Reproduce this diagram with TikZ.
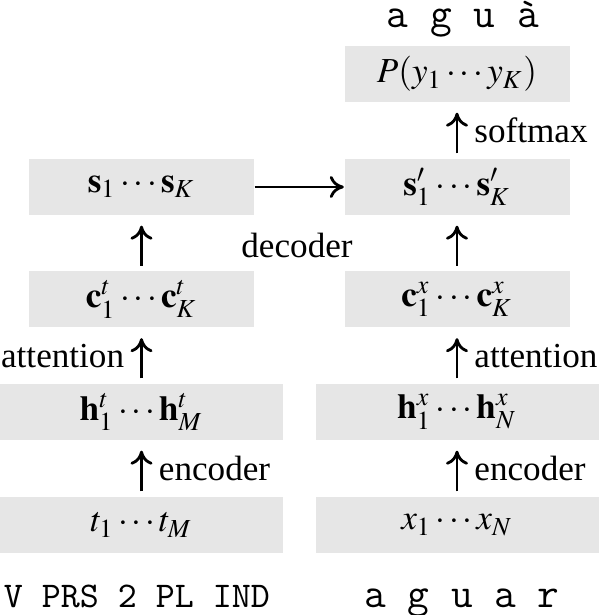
\documentclass[tikz,border=0pt]{standalone}
\usepackage{mathptmx}
\usepackage{fontspec}
\setmainfont{Liberation Serif}
\usetikzlibrary{arrows.meta}
\definecolor{layerfill}{HTML}{E6E6E6}
\tikzset{
  >={Computer Modern Rightarrow[length=1.4mm,width=2.2mm]},
  layer/.style={fill=layerfill,minimum height=5.6mm,inner sep=0pt},
  narrow/.style={layer,minimum width=22.5mm},
  wide/.style={layer,minimum width=28.3mm},
  flow/.style={->,line width=.8pt,shorten <=.5mm,shorten >=1mm},
  steplabel/.style={inner sep=0pt},
  tagtext/.style={font=\fontsize{10.3}{12}\selectfont\ttfamily,anchor=base,inner sep=0pt},
  wordtext/.style={font=\fontsize{12}{14}\selectfont\ttfamily,anchor=base,inner sep=0pt},
}
\begin{document}
\begin{tikzpicture}[x=.1mm,y=-.1mm]
  \useasboundingbox (0,0) rectangle (599,615);
  % tag side
  \node[wide] (tags) at (141.5,525) {$t_1\cdots t_M$};
  \node[wide] (htag) at (141.5,412) {$\mathbf{h}^t_1\cdots\mathbf{h}^t_M$};
  \node[narrow] (ctag) at (141.5,299.5) {$\mathbf{c}^t_1\cdots\mathbf{c}^t_K$};
  \node[narrow] (state) at (141.5,187) {$\mathbf{s}_1\cdots\mathbf{s}_K$};
  % lemma side
  \node[wide] (chars) at (457,525) {$x_1\cdots x_N$};
  \node[wide] (hchar) at (457,412) {$\mathbf{h}^x_1\cdots\mathbf{h}^x_N$};
  \node[narrow] (cchar) at (457,299.5) {$\mathbf{c}^x_1\cdots\mathbf{c}^x_K$};
  \node[narrow] (statep) at (457,187) {$\mathbf{s}'_1\cdots\mathbf{s}'_K$};
  \node[narrow] (prob) at (457,74) {$P(y_1\cdots y_K)$};
  % strings
  \node[tagtext] (tagstr) at (137,607) {V PRS 2 PL IND};
  \node[wordtext] (lemma) at (462,607) {a g u a r};
  \node[wordtext] (form) at (463,28) {a g u à};
  % connectors
  \draw[flow] (tags) -- node[steplabel,right=1.6mm] (enctag) {encoder} (htag);
  \draw[flow] (htag) -- node[steplabel,left=1.6mm] (atttag) {attention} (ctag);
  \draw[flow] (ctag) -- (state);
  \draw[flow] (chars) -- node[steplabel,right=1.6mm] (encchar) {encoder} (hchar);
  \draw[flow] (hchar) -- node[steplabel,right=1.6mm] (attchar) {attention} (cchar);
  \draw[flow] (cchar) -- (statep);
  \draw[flow] (statep) -- node[steplabel,right=1.6mm] (soft) {softmax} (prob);
  \draw[->,line width=.8pt] (state) -- (statep);
  \node (dec) at (297,245) {decoder};
\end{tikzpicture}
\end{document}
